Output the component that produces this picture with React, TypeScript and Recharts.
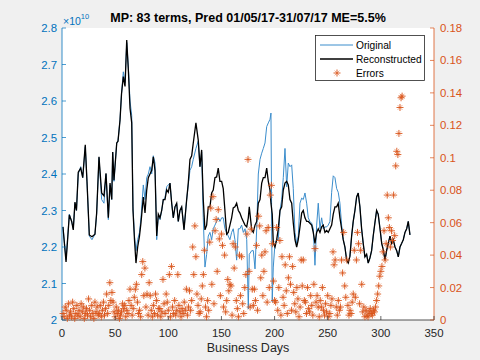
import React from 'react';
import { ComposedChart, Line, Scatter, XAxis, YAxis, CartesianGrid, Legend } from 'recharts';

const BLUE = '#0072BD';
const LINE_BLUE = '#3b8dcc';
const ORANGE = '#D95319';
const DARK = '#262626';
const FONT = '"Liberation Sans", Arial, Helvetica, sans-serif';

const days = [
  0.9, 3.8, 6.9, 9.1, 10.6, 12.2, 13.6, 15.3, 17.6, 19.5, 21.9, 23.5, 25.7, 28.2, 31, 32.6, 34.8, 37.3, 39.5, 41.4,
  43.6, 45.2, 46.8, 47.7, 48.9, 51.5, 52.7, 54.6, 56, 57.7, 59.3, 60.9, 62.5, 64, 65.6, 66.8, 68.2, 69.6, 71.2, 72.9,
  74.3, 76.5, 78.1, 79.7, 81.2, 82.8, 84.4, 85.9, 87.5, 89.1, 90.6, 92.2, 93.8, 95.3, 96.9, 98.5, 100, 101.6, 103.2, 104.7,
  106.3, 107.9, 109.4, 111, 112.6, 114.8, 117.3, 118.8, 120.4, 122, 123.5, 126, 128.2, 129.8, 131.4, 132.9, 134.5, 136.1, 137.6, 139.2,
  140.8, 142.3, 143.9, 145.5, 147, 148.6, 150.2, 151.7, 153.3, 154.9, 156.4, 158, 159.6, 161.1, 162.7, 164.3, 165.9, 167.4, 169, 170.6,
  172.2, 173.8, 175.3, 176.2, 178.5, 180, 181.6, 183.2, 184.7, 186.3, 187.9, 189.4, 191, 192.6, 194.1, 195.7, 196.6, 197.8, 198.8, 200.4,
  202, 203.5, 205.1, 206.7, 208.2, 209.8, 211.4, 212.9, 214.5, 216.1, 217.6, 219.2, 220.8, 222.3, 223.9, 225.5, 227, 228.6, 230.2, 231.7,
  233.3, 234.9, 236.4, 238, 239.6, 241.1, 242.7, 244.3, 245.8, 247.4, 249, 250.5, 252.1, 253.7, 255.2, 256.8, 258.4, 259.9, 261.5, 263.1,
  264.6, 266.2, 267.8, 269.3, 270.9, 272.5, 274, 275.6, 277.2, 278.7, 280.3, 281.9, 283.4, 285, 286.6, 288.1, 289.7, 291.3, 292.8, 294.4,
  296, 297.5, 299.2, 300.8, 302.3, 303.9, 305.4, 307, 308.6, 310.2, 311.7, 313.3, 314.9, 316.4, 318, 319.6, 321.1, 322.7, 324.3, 325.8, 327.4,
];

const reconstructed = [
  2.255, 2.159, 2.288, 2.27, 2.247, 2.323, 2.3, 2.405, 2.416, 2.39, 2.48, 2.38, 2.233, 2.228, 2.235, 2.293, 2.447, 2.348, 2.34, 2.402,
  2.28, 2.375, 2.33, 2.46, 2.383, 2.485, 2.49, 2.548, 2.62, 2.667, 2.64, 2.767, 2.68, 2.58, 2.54, 2.3, 2.22, 2.156, 2.2, 2.23,
  2.266, 2.337, 2.293, 2.356, 2.39, 2.4, 2.41, 2.447, 2.41, 2.23, 2.29, 2.28, 2.3, 2.33, 2.33, 2.357, 2.35, 2.375, 2.32, 2.28,
  2.31, 2.32, 2.27, 2.3, 2.31, 2.247, 2.33, 2.375, 2.44, 2.45, 2.485, 2.54, 2.493, 2.42, 2.466, 2.33, 2.247, 2.26, 2.31, 2.31,
  2.348, 2.356, 2.39, 2.392, 2.416, 2.38, 2.38, 2.36, 2.3, 2.235, 2.24, 2.26, 2.28, 2.307, 2.31, 2.32, 2.3, 2.293, 2.28, 2.27,
  2.26, 2.255, 2.28, 2.31, 2.247, 2.24, 2.26, 2.27, 2.32, 2.33, 2.375, 2.39, 2.39, 2.416, 2.38, 2.356, 2.32, 2.29, 2.21, 2.2,
  2.22, 2.25, 2.3, 2.31, 2.356, 2.375, 2.38, 2.37, 2.33, 2.32, 2.266, 2.22, 2.2, 2.22, 2.255, 2.293, 2.3, 2.28, 2.27, 2.27,
  2.265, 2.26, 2.24, 2.21, 2.24, 2.25, 2.24, 2.255, 2.26, 2.24, 2.245, 2.24, 2.25, 2.26, 2.29, 2.31, 2.31, 2.32, 2.28, 2.25,
  2.22, 2.2, 2.164, 2.156, 2.175, 2.23, 2.27, 2.3, 2.337, 2.348, 2.31, 2.25, 2.21, 2.173, 2.18, 2.156, 2.17, 2.19, 2.23, 2.266,
  2.3, 2.29, 2.25, 2.21, 2.192, 2.164, 2.19, 2.21, 2.23, 2.21, 2.22, 2.2, 2.19, 2.173, 2.2, 2.21, 2.22, 2.24, 2.25, 2.27, 2.233,
];

const original = [
  2.255, 2.165, 2.29, 2.27, 2.25, 2.32, 2.3, 2.4, 2.42, 2.39, 2.475, 2.38, 2.23, 2.22, 2.235, 2.29, 2.445, 2.33, 2.32, 2.4,
  2.275, 2.37, 2.33, 2.46, 2.38, 2.485, 2.49, 2.55, 2.62, 2.68, 2.65, 2.76, 2.69, 2.6, 2.56, 2.31, 2.23, 2.19, 2.22, 2.24,
  2.28, 2.37, 2.33, 2.39, 2.4, 2.42, 2.4, 2.45, 2.43, 2.22, 2.285, 2.275, 2.3, 2.33, 2.335, 2.365, 2.37, 2.375, 2.32, 2.28,
  2.31, 2.32, 2.27, 2.3, 2.31, 2.25, 2.33, 2.37, 2.41, 2.42, 2.44, 2.47, 2.49, 2.42, 2.46, 2.28, 2.145, 2.18, 2.23, 2.24,
  2.22, 2.25, 2.26, 2.27, 2.28, 2.27, 2.28, 2.28, 2.25, 2.24, 2.23, 2.22, 2.24, 2.25, 2.22, 2.164, 2.25, 2.25, 2.26, 2.24,
  2.25, 2.22, 2.03, 2.18, 2.19, 2.19, 2.14, 2.25, 2.4, 2.44, 2.457, 2.47, 2.485, 2.53, 2.54, 2.55, 2.567, 2.05, 2.145, 2.21,
  2.22, 2.22, 2.3, 2.33, 2.39, 2.47, 2.365, 2.43, 2.42, 2.425, 2.36, 2.24, 2.21, 2.23, 2.32, 2.334, 2.33, 2.348, 2.32, 2.28,
  2.27, 2.265, 2.25, 2.15, 2.26, 2.32, 2.25, 2.28, 2.25, 2.255, 2.255, 2.26, 2.27, 2.35, 2.395, 2.39, 2.36, 2.35, 2.32, 2.26,
  2.22, 2.2, 2.164, 2.156, 2.175, 2.23, 2.27, 2.3, 2.337, 2.348, 2.31, 2.25, 2.21, 2.173, 2.18, 2.156, 2.17, 2.19, 2.23, 2.266,
  2.3, 2.29, 2.25, 2.21, 2.192, 2.164, 2.19, 2.21, 2.23, 2.21, 2.22, 2.2, 2.19, 2.173, 2.2, 2.21, 2.22, 2.24, 2.25, 2.27, 2.233,
];

const errDays = [
  1, 2, 3, 4, 5, 6, 7, 8, 9, 10, 11, 12, 13, 14, 15, 16, 17, 18, 19, 20,
  21, 22, 23, 24, 25, 26, 27, 28, 29, 30, 31, 32, 33, 34, 35, 36, 37, 38, 39, 40,
  41, 42, 43, 44, 45, 46, 47, 48, 49, 50, 51, 52, 53, 54, 55, 56, 57, 58, 59, 60,
  61, 62, 63, 64, 65, 66, 67, 68, 69, 70, 71, 72, 73, 74, 75, 76, 77, 78, 79, 80,
  81, 82, 83, 84, 85, 86, 87, 88, 89, 90, 91, 92, 93, 94, 95, 96, 97, 98, 99, 100,
  101, 102, 103, 104, 105, 106, 107, 108, 109, 110, 111, 112, 113, 114, 115, 116, 117, 118, 119, 120,
  121, 122, 123, 124, 125, 126, 127, 128, 129, 130, 131, 132, 133, 134, 135, 136, 137, 138, 139, 140,
  141, 142, 143, 144, 145, 146, 147, 148, 149, 150, 151, 152, 153, 154, 155, 156, 157, 158, 159, 160,
  161, 162, 163, 164, 165, 166, 167, 168, 169, 170, 171, 172, 173, 174, 175, 176, 177, 178, 179, 180,
  181, 182, 183, 184, 185, 186, 187, 188, 189, 190, 191, 192, 193, 194, 195, 196, 197, 198, 199, 200,
  201, 202, 203, 204, 205, 206, 207, 208, 209, 210, 211, 212, 213, 214, 215, 216, 217, 218, 219, 220,
  221, 222, 223, 224, 225, 226, 227, 228, 229, 230, 231, 232, 233, 234, 235, 236, 237, 238, 239, 240,
  241, 242, 243, 244, 245, 246, 247, 248, 249, 250, 251, 252, 253, 254, 255, 256, 257, 258, 259, 260,
  261, 262, 263, 264, 265, 266, 267, 268, 269, 270, 271, 272, 273, 274, 275, 276, 277, 278, 279, 280,
  281, 282, 283, 284, 285, 286, 287, 288, 289, 290, 291, 292, 293, 294, 295, 296, 297, 298, 299, 300,
  301, 302, 303, 304, 305, 306, 307, 308, 309, 310, 311, 312, 313, 314, 315, 316, 317, 318, 319, 320,
];

const errValues = [
  0.004, 0.002, 0.008, 0.006, 0.001, 0.01, 0.003, 0.005, 0.002, 0.011, 0.007, 0.001, 0.004, 0.009, 0.003, 0.006, 0.002, 0.01, 0.005, 0.008,
  0.001, 0.004, 0.007, 0.003, 0.013, 0.006, 0.002, 0.009, 0.004, 0.001, 0.011, 0.005, 0.008, 0.003, 0.004, 0.009, 0.002, 0.006, 0.011, 0.003,
  0.007, 0.016, 0.004, 0.009, 0.023, 0.012, 0.017, 0.011, 0.005, 0.002, 0.008, 0.004, 0.006, 0.001, 0.003, 0.005, 0.01, 0.007, 0.009, 0.002,
  0.006, 0.004, 0.012, 0.019, 0.009, 0.003, 0.007, 0.014, 0.019, 0.022, 0.011, 0.004, 0.006, 0.002, 0.028, 0.036, 0.015, 0.032, 0.008, 0.016,
  0.003, 0.023, 0.015, 0.006, 0.002, 0.009, 0.004, 0.016, 0.012, 0.003, 0.007, 0.007, 0.002, 0.005, 0.025, 0.01, 0.004, 0.016, 0.011, 0.006,
  0.028, 0.002, 0.033, 0.008, 0.004, 0.012, 0.003, 0.006, 0.028, 0.009, 0.005, 0.002, 0.007, 0.004, 0.011, 0.006, 0.019, 0.003, 0.008, 0.018,
  0.006, 0.012, 0.045, 0.028, 0.058, 0.039, 0.016, 0.009, 0.004, 0.005, 0.013, 0.021, 0.028, 0.043, 0.008, 0.002, 0.012, 0.006, 0.048, 0.069,
  0.022, 0.076, 0.01, 0.055, 0.062, 0.03, 0.068, 0.05, 0.015, 0.053, 0.046, 0.008, 0.04, 0.005, 0.012, 0.025, 0.018, 0.022, 0.021, 0.003,
  0.047, 0.032, 0.045, 0.012, 0.007, 0.002, 0.04, 0.015, 0.039, 0.01, 0.004, 0.02, 0.028, 0.053, 0.099, 0.03, 0.008, 0.056, 0.019, 0.009,
  0.019, 0.012, 0.046, 0.006, 0.064, 0.058, 0.026, 0.04, 0.015, 0.03, 0.042, 0.055, 0.011, 0.057, 0.02, 0.077, 0.083, 0.047, 0.024, 0.012,
  0.011, 0.057, 0.006, 0.02, 0.049, 0.003, 0.039, 0.014, 0.009, 0.034, 0.018, 0.004, 0.026, 0.039, 0.022, 0.006, 0.033, 0.017, 0.01, 0.005,
  0.02, 0.013, 0.002, 0.008, 0.037, 0.021, 0.037, 0.012, 0.011, 0.004, 0.02, 0.007, 0.005, 0.015, 0.009, 0.003, 0.022, 0.044, 0.011, 0.015,
  0.008, 0.002, 0.012, 0.008, 0.02, 0.006, 0.003, 0.01, 0.005, 0.015, 0.002, 0.004, 0.009, 0.013, 0.042, 0.034, 0.037, 0.008, 0.003, 0.012,
  0.006, 0.008, 0.037, 0.029, 0.054, 0.021, 0.014, 0.037, 0.009, 0.003, 0.006, 0.004, 0.011, 0.016, 0.043, 0.014, 0.037, 0.054, 0.047, 0.01,
  0.043, 0.022, 0.005, 0.008, 0.002, 0.006, 0.003, 0.002, 0.005, 0.007, 0.004, 0.003, 0.006, 0.005, 0.008, 0.012, 0.016, 0.021, 0.027, 0.03,
  0.033, 0.042, 0.055, 0.037, 0.047, 0.077, 0.063, 0.057, 0.045, 0.055, 0.049, 0.077, 0.052, 0.095, 0.104, 0.102, 0.115, 0.131, 0.137, 0.138,
];

const xTicks = [0, 50, 100, 150, 200, 250, 300, 350];
const leftTicks = [2, 2.1, 2.2, 2.3, 2.4, 2.5, 2.6, 2.7, 2.8];
const rightTicks = [0, 0.02, 0.04, 0.06, 0.08, 0.1, 0.12, 0.14, 0.16, 0.18];

const lineData = days.map((d, i) => ({ day: d, original: original[i], reconstructed: reconstructed[i] }));
const errData = errDays.map((d, i) => ({ day: d, err: errValues[i] }));

const TICK_FS = 11.4;
const TL = 4;

const XTick = (p: any) => {
  const { x, y, payload } = p;
  return (
    <g>
      <line x1={x} y1={y} x2={x} y2={y - TL} stroke={DARK} strokeWidth={0.7} />
      <text x={x} y={y + 16.6} textAnchor="middle" fontSize={TICK_FS} fill={DARK} fontFamily={FONT}>
        {payload.value}
      </text>
    </g>
  );
};

const TopTick = (p: any) => {
  const { x, y } = p;
  return <line x1={x} y1={y} x2={x} y2={y + TL} stroke={DARK} strokeWidth={0.7} />;
};

const LeftTick = (p: any) => {
  const { x, y, payload } = p;
  return (
    <g>
      <line x1={x} y1={y} x2={x + TL} y2={y} stroke={BLUE} strokeWidth={0.7} />
      <text x={x - 5} y={y + 4} textAnchor="end" fontSize={TICK_FS} fill={BLUE} fontFamily={FONT}>
        {String(payload.value)}
      </text>
    </g>
  );
};

const RightTick = (p: any) => {
  const { x, y, payload } = p;
  return (
    <g>
      <line x1={x} y1={y} x2={x - TL} y2={y} stroke={ORANGE} strokeWidth={0.7} />
      <text x={x + 6} y={y + 4} textAnchor="start" fontSize={TICK_FS} fill={ORANGE} fontFamily={FONT}>
        {String(payload.value)}
      </text>
    </g>
  );
};

const Asterisk = (p: any) => {
  const { cx, cy } = p;
  if (cx == null || cy == null) return <g />;
  const r = 3.5;
  const d = 2.4;
  return (
    <g stroke={ORANGE} strokeWidth={0.9} fill="none">
      <line x1={cx - r} y1={cy} x2={cx + r} y2={cy} />
      <line x1={cx} y1={cy - r} x2={cx} y2={cy + r} />
      <line x1={cx - d} y1={cy - d} x2={cx + d} y2={cy + d} strokeWidth={0.5} />
      <line x1={cx - d} y1={cy + d} x2={cx + d} y2={cy - d} strokeWidth={0.5} />
    </g>
  );
};

const LegendBox = () => (
  <svg width={110} height={46} style={{ display: 'block' }}>
    <rect x={0.5} y={0.5} width={109} height={45} fill="#fff" stroke={DARK} strokeWidth={0.8} />
    <line x1={5} y1={10} x2={38} y2={10} stroke={LINE_BLUE} strokeWidth={1} />
    <text x={41} y={13.6} fontSize={10.2} fill="#000" fontFamily={FONT}>Original</text>
    <line x1={5} y1={24} x2={38} y2={24} stroke="#000" strokeWidth={1.3} />
    <text x={41} y={27.6} fontSize={10.2} fill="#000" fontFamily={FONT}>Reconstructed</text>
    <Asterisk cx={22} cy={38} />
    <text x={41} y={41.6} fontSize={10.2} fill="#000" fontFamily={FONT}>Errors</text>
  </svg>
);

export default function App() {
  return (
    <div style={{ position: 'fixed', left: 0, top: 0, width: 480, height: 360, background: '#f0f0f0', overflow: 'hidden' }}>
      <ComposedChart
        width={480}
        height={360}
        data={lineData}
        margin={{ top: 28, right: 0, bottom: 0, left: 0 }}
      >
        <CartesianGrid fill="#ffffff" stroke="none" horizontal={false} vertical={false} xAxisId="b" yAxisId="left" />
        <XAxis
          xAxisId="b"
          dataKey="day"
          type="number"
          domain={[0, 350]}
          ticks={xTicks}
          height={40}
          tickSize={0}
          tickMargin={0}
          tickLine={false}
          tick={<XTick />}
          stroke={DARK}
          axisLine={{ stroke: DARK, strokeWidth: 0.8 }}
          interval={0}
          label={{ value: 'Business Days', position: 'insideBottom', offset: 8, fontSize: 12.5, fill: DARK, fontFamily: FONT }}
        />
        <XAxis
          xAxisId="t"
          dataKey="day"
          type="number"
          orientation="top"
          domain={[0, 350]}
          ticks={xTicks}
          height={0}
          tickSize={0}
          tickMargin={0}
          tickLine={false}
          tick={<TopTick />}
          axisLine={{ stroke: DARK, strokeWidth: 0.8 }}
          interval={0}
        />
        <YAxis
          yAxisId="left"
          orientation="left"
          type="number"
          domain={[2, 2.8]}
          ticks={leftTicks}
          width={62}
          tickSize={0}
          tickMargin={0}
          tickLine={false}
          tick={<LeftTick />}
          axisLine={{ stroke: BLUE, strokeWidth: 0.8 }}
          interval={0}
        />
        <YAxis
          yAxisId="right"
          orientation="right"
          type="number"
          domain={[0, 0.18]}
          ticks={rightTicks}
          width={46}
          tickSize={0}
          tickMargin={0}
          tickLine={false}
          tick={<RightTick />}
          axisLine={{ stroke: ORANGE, strokeWidth: 0.8 }}
          interval={0}
        />
        <Line
          xAxisId="b"
          yAxisId="left"
          type="linear"
          dataKey="original"
          stroke={LINE_BLUE}
          strokeWidth={1}
          dot={false}
          activeDot={false}
          isAnimationActive={false}
        />
        <Line
          xAxisId="b"
          yAxisId="left"
          type="linear"
          dataKey="reconstructed"
          stroke="#000"
          strokeWidth={1.3}
          dot={false}
          activeDot={false}
          isAnimationActive={false}
        />
        <Scatter
          xAxisId="b"
          yAxisId="right"
          data={errData}
          dataKey="err"
          shape={Asterisk}
          isAnimationActive={false}
        />
        <Legend
          layout="horizontal"
          verticalAlign="middle"
          align="center"
          content={() => <LegendBox />}
          wrapperStyle={{ position: 'absolute', left: 315, top: 35, width: 110, height: 46 }}
        />
      </ComposedChart>
      <svg width={480} height={360} style={{ position: 'absolute', left: 0, top: 0, pointerEvents: 'none' }}>
        <text x={248} y={21.5} textAnchor="middle" fontSize={12.5} fontWeight="bold" fill="#000" fontFamily={FONT}>
          MP: 83 terms, Pred 01/05/17-31/07/17 ME=5.5%
        </text>
        <text x={63} y={24.5} fontSize={10.5} fill={BLUE} fontFamily={FONT}>
          ×10
          <tspan fontSize={7.5} dy={-6}>10</tspan>
        </text>
      </svg>
    </div>
  );
}
